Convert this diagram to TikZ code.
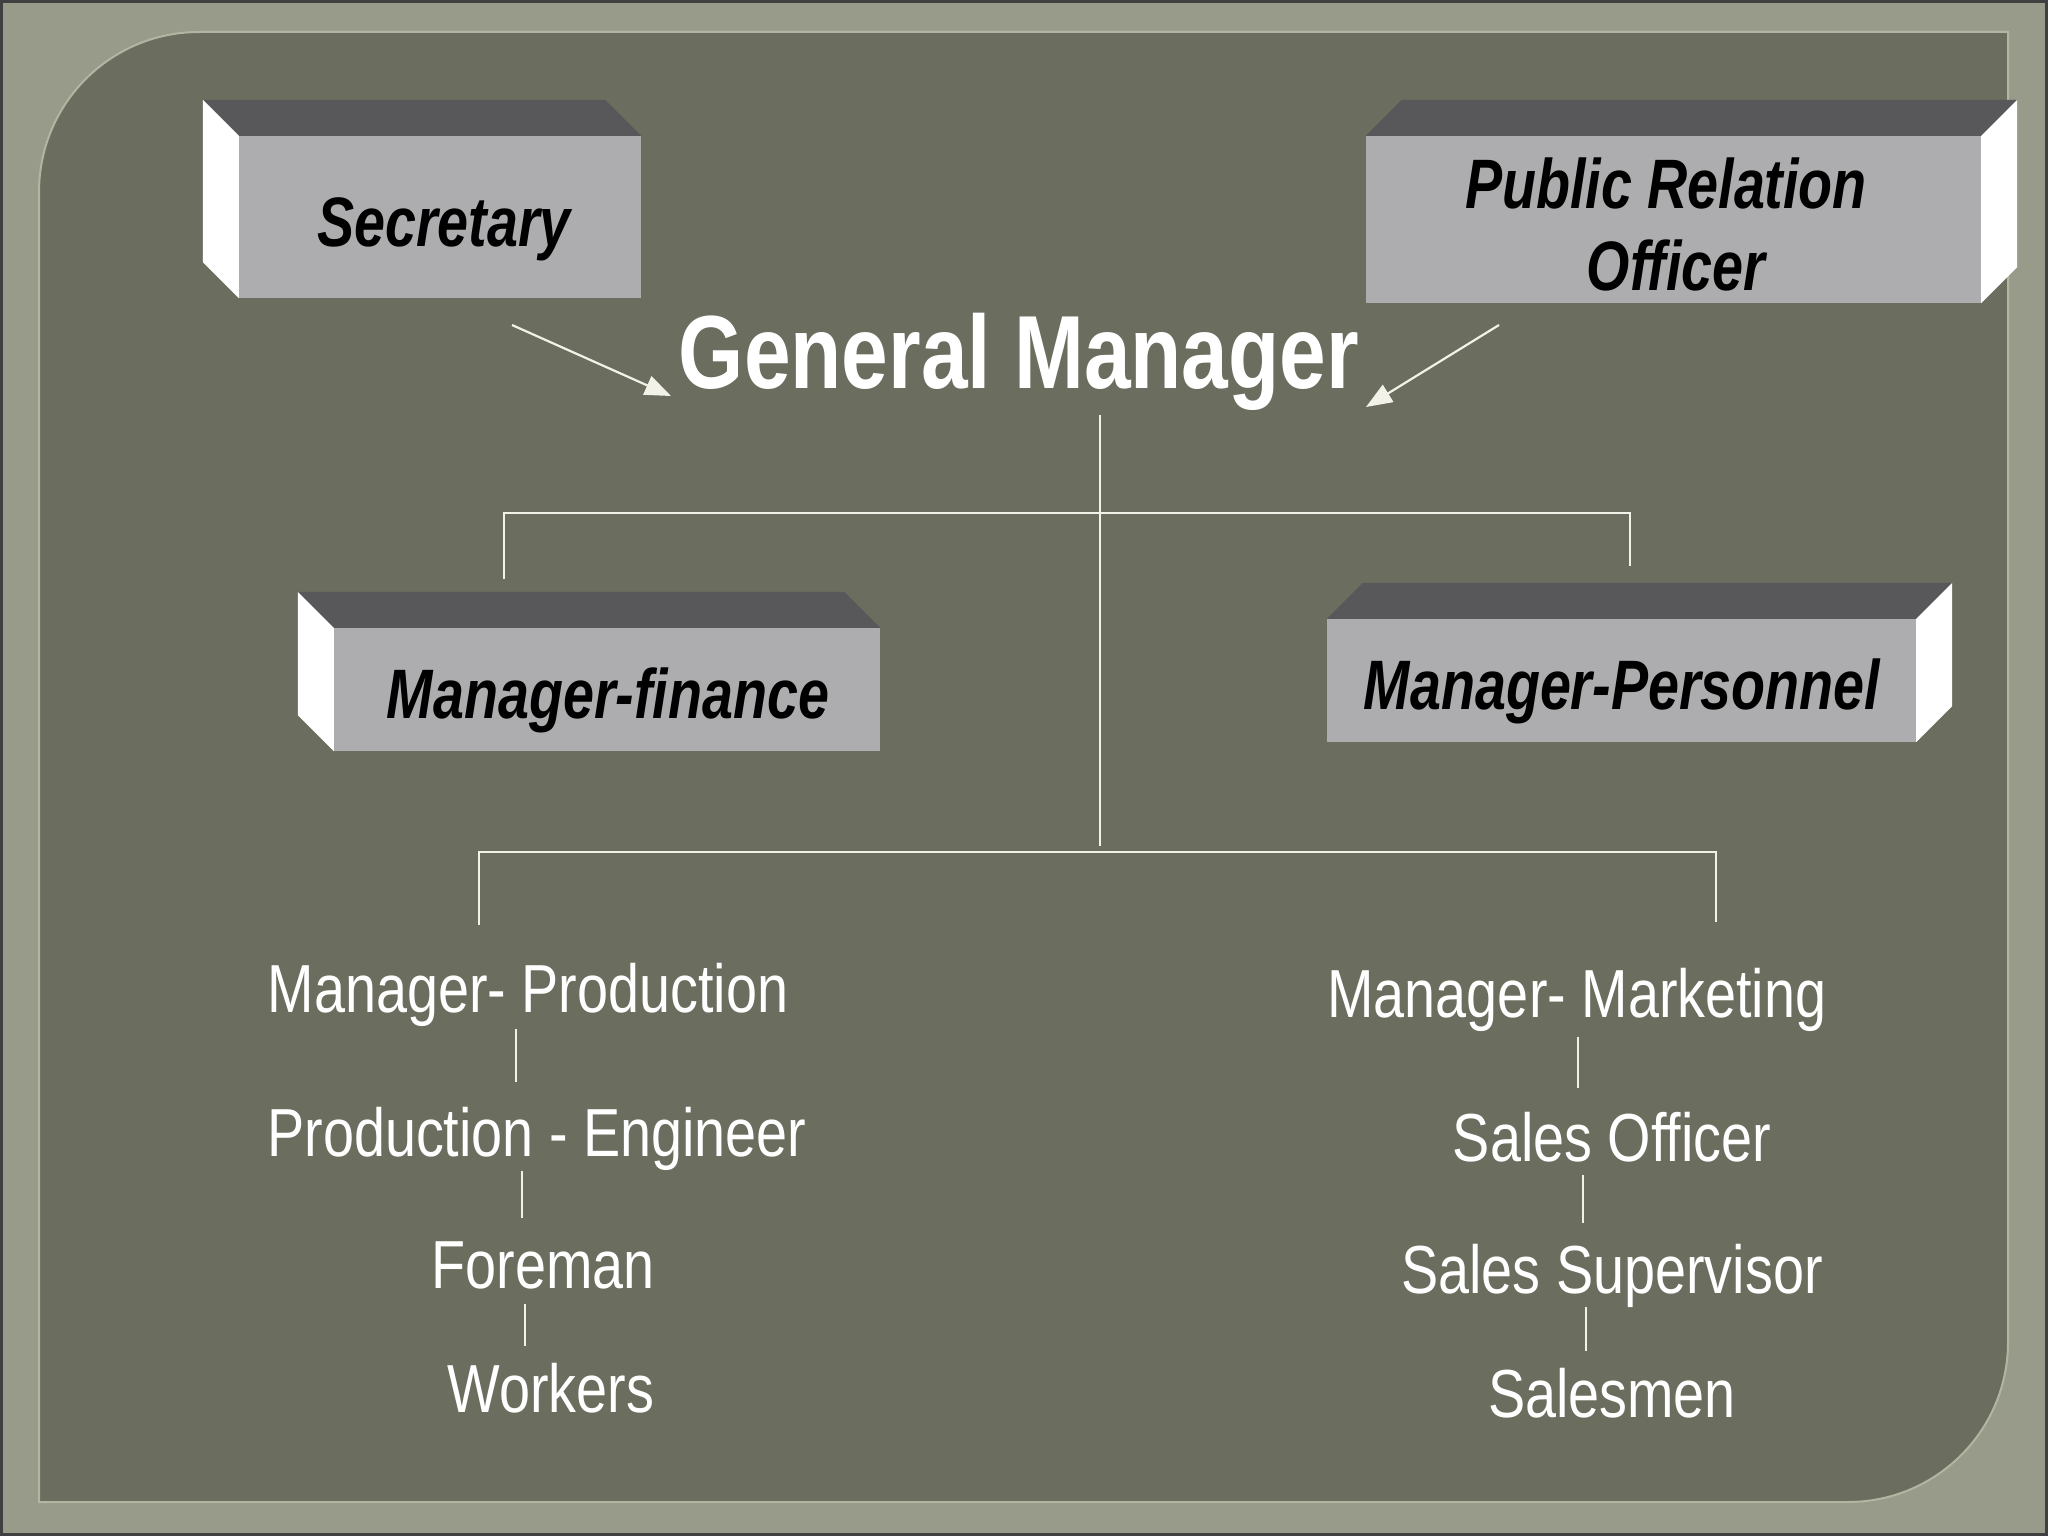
\documentclass[tikz,border=0pt]{standalone}
\usepackage{fontspec}
\newfontfamily\nar[FakeStretch=0.82]{Liberation Sans}
\newfontfamily\narb[FakeStretch=0.795]{Liberation Sans}
\newfontfamily\narg[FakeStretch=0.806]{Liberation Sans}
\usetikzlibrary{arrows.meta}
\definecolor{framec}{HTML}{989B89}
\definecolor{panelc}{HTML}{6B6D5E}
\definecolor{edgec}{HTML}{B2B5A2}
\definecolor{frontc}{HTML}{ADADAF}
\definecolor{topc}{HTML}{58585A}
\definecolor{linec}{HTML}{F2F2E8}
\tikzset{
  front/.style={fill=frontc, draw=none, inner sep=0, rectangle},
  topface/.style={fill=topc},
  sideface/.style={fill=white},
  boxtext/.style={font=\narb\bfseries\itshape\fontsize{70}{84}\selectfont, text=black, anchor=base, inner sep=0},
  gmtext/.style={font=\narg\bfseries\fontsize{104}{120}\selectfont, text=white, anchor=base, inner sep=0},
  lowtext/.style={font=\nar\fontsize{68}{80}\selectfont, text=white, anchor=base, inner sep=0},
  tree/.style={draw=linec, line width=2.5pt},
  arr/.style={draw=linec, line width=2.2pt, -{Triangle[length=26pt,width=20pt]}}
}
\begin{document}
\begin{tikzpicture}[x=1pt,y=-1pt]
\useasboundingbox (0,0) rectangle (2048,1536);
% frame
\fill[framec] (0,0) rectangle (2048,1536);
\draw[black!75, line width=3pt] (1.5,1.5) rectangle (2046.5,1534.5);
% panel
\fill[panelc] (199,32) -- (2008,32) -- (2008,1342) arc(0:90:160) -- (39,1502) -- (39,192) arc(180:270:160) -- cycle;
\draw[edgec, line width=2pt] (199,32) -- (2008,32) -- (2008,1342) arc(0:90:160) -- (39,1502) -- (39,192) arc(180:270:160) -- cycle;

% Secretary box (depth to the left)
\node[front, minimum width=402pt, minimum height=162pt] (secf) at (440,217) {};
\fill[topface] (secf.north west) -- ++(-36,-36) -- ([shift={(-36,-36)}]secf.north east) -- (secf.north east) -- cycle;
\fill[sideface] (secf.north west) -- ++(-36,-36) -- ([shift={(-36,-36)}]secf.south west) -- (secf.south west) -- cycle;
\node[boxtext] (sec) at (444,246) {Secretary};

% Public Relation Officer box (depth to the right)
\node[front, minimum width=615pt, minimum height=167pt] (prf) at (1673.5,219.5) {};
\fill[topface] (prf.north west) -- ++(36,-36) -- ([shift={(36,-36)}]prf.north east) -- (prf.north east) -- cycle;
\fill[sideface] (prf.north east) -- ++(36,-36) -- ([shift={(36,-36)}]prf.south east) -- (prf.south east) -- cycle;
\node[boxtext] (pr1) at (1666,208) {Public Relation};
\node[boxtext] (pr2) at (1676,290) {Officer};

% Manager-finance box
\node[front, minimum width=546pt, minimum height=123pt] (finf) at (607,689.5) {};
\fill[topface] (finf.north west) -- ++(-36,-36) -- ([shift={(-36,-36)}]finf.north east) -- (finf.north east) -- cycle;
\fill[sideface] (finf.north west) -- ++(-36,-36) -- ([shift={(-36,-36)}]finf.south west) -- (finf.south west) -- cycle;
\node[boxtext] (fin) at (608,718) {Manager-finance};

% Manager-Personnel box
\node[front, minimum width=589pt, minimum height=123pt] (perf) at (1621.5,680.5) {};
\fill[topface] (perf.north west) -- ++(36,-36) -- ([shift={(36,-36)}]perf.north east) -- (perf.north east) -- cycle;
\fill[sideface] (perf.north east) -- ++(36,-36) -- ([shift={(36,-36)}]perf.south east) -- (perf.south east) -- cycle;
\node[boxtext] (per) at (1622,709) {Manager-Personnel};

% General Manager
\node[gmtext] (gm) at (1019,388) {General Manager};

% arrows
\coordinate (secarr) at (512,325);
\coordinate (gmleft) at (671,396);
\coordinate (prarr) at (1499,325);
\coordinate (gmright) at (1366,407);
\draw[arr] (secarr) -- (gmleft);
\draw[arr] (prarr) -- (gmright);

% tree
\coordinate (gmb) at (1100,415);
\coordinate (gmlow) at (1100,846);
\coordinate (upbar) at (1100,513);
\coordinate (fintop) at (504,579);
\coordinate (pertop) at (1630,566);
\coordinate (lowbar) at (1100,852);
\coordinate (mptop) at (479,925);
\coordinate (mmtop) at (1716,922);
\draw[tree] (gmb) -- (gmlow);
\draw[tree] (fintop) |- (upbar) -| (pertop);
\draw[tree] (mptop) |- (lowbar) -| (mmtop);

% left column
\node[lowtext] (mp) at (528,1012) {Manager- Production};
\node[lowtext] (pe) at (537,1156) {Production - Engineer};
\node[lowtext] (fo) at (543,1288) {Foreman};
\node[lowtext] (wo) at (551,1412) {Workers};
\coordinate (l1a) at (516,1029); \coordinate (l1b) at (516,1082);
\coordinate (l2a) at (522,1171); \coordinate (l2b) at (522,1218);
\coordinate (l3a) at (525,1304); \coordinate (l3b) at (525,1346);
\draw[tree, line width=2pt] (l1a) -- (l1b);
\draw[tree, line width=2pt] (l2a) -- (l2b);
\draw[tree, line width=2pt] (l3a) -- (l3b);

% right column
\node[lowtext] (mm) at (1577,1017) {Manager- Marketing};
\node[lowtext] (so) at (1612,1161) {Sales Officer};
\node[lowtext] (ss) at (1612,1293) {Sales Supervisor};
\node[lowtext] (sm) at (1612,1417) {Salesmen};
\coordinate (r1a) at (1578,1037); \coordinate (r1b) at (1578,1088);
\coordinate (r2a) at (1583,1175); \coordinate (r2b) at (1583,1223);
\coordinate (r3a) at (1586,1307); \coordinate (r3b) at (1586,1351);
\draw[tree, line width=2pt] (r1a) -- (r1b);
\draw[tree, line width=2pt] (r2a) -- (r2b);
\draw[tree, line width=2pt] (r3a) -- (r3b);
\end{tikzpicture}
\end{document}
